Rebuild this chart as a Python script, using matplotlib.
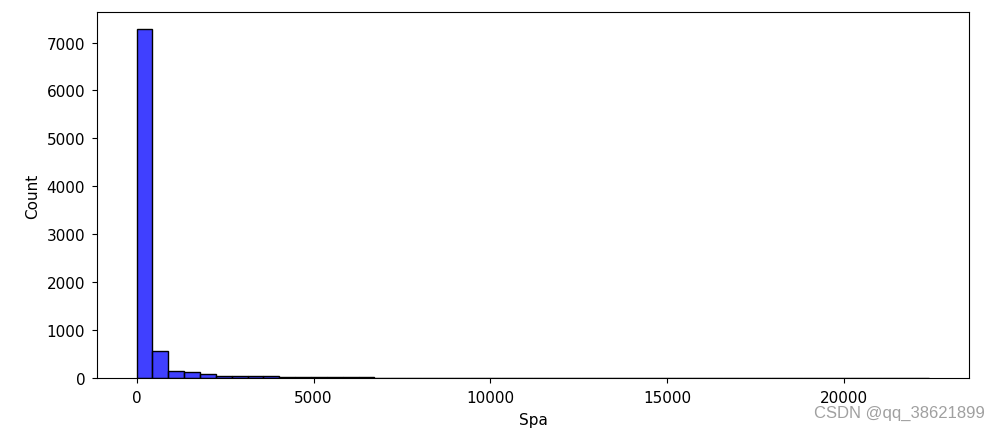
import numpy as np
import matplotlib
matplotlib.use("Agg")
import matplotlib.pyplot as plt
import seaborn as sns

# histogram of Spa, 50 bins over 0..22408 (counts)
spa_max = 22408
n_bins = 50
counts = [7275, 562, 145, 115, 72, 45, 40, 38, 35, 22,
          18, 15, 14, 12, 10, 0, 0, 6, 5, 0,
          4, 0, 0, 0, 3, 0, 0, 0, 0, 3,
          0, 0, 0, 0, 0, 0, 0, 0, 0, 0,
          0, 0, 0, 0, 0, 0, 0, 0, 0, 1]

width = spa_max / n_bins
centers = (np.arange(n_bins) + 0.5) * width

plt.rcParams["font.size"] = 11

fig = plt.figure(figsize=(10, 4.31), dpi=100)
ax = fig.add_axes([0.097, 0.121, 0.872, 0.849])
sns.histplot(x=centers, weights=counts, bins=n_bins, binrange=(0, spa_max),
             color="blue", ax=ax)
ax.set_xlabel("Spa", labelpad=5)
ax.set_ylabel("Count", labelpad=5)
ax.tick_params(labelsize=11, pad=5)

fig.text(0.985, 0.04, "CSDN @qq_38621899", ha="right", va="center",
         color="#a0a0a0", fontsize=12, family="Liberation Sans")

fig.savefig("out.png", dpi=100)
